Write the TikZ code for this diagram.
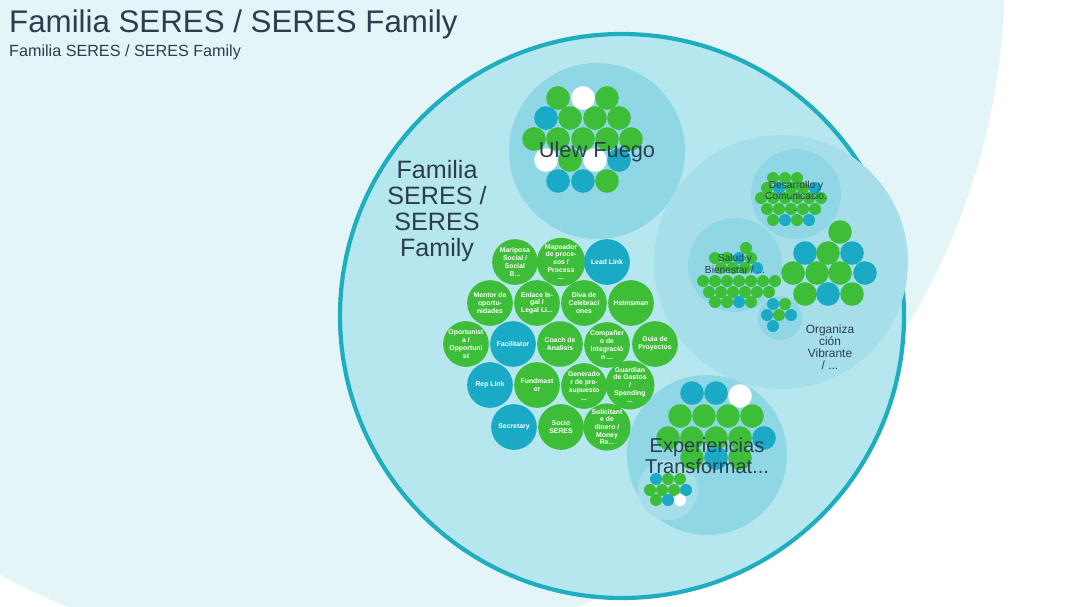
\documentclass[tikz,border=0pt]{standalone}
\usepackage{fontspec}
\setmainfont{Liberation Sans}
\definecolor{gr}{HTML}{3EBE38}
\definecolor{bl}{HTML}{1AAAC6}
\definecolor{wh}{HTML}{FFFFFF}
\definecolor{pale}{HTML}{E4F5F8}
\definecolor{mainc}{HTML}{B6E6EE}
\definecolor{subc}{HTML}{8FD7E4}
\definecolor{sub2}{HTML}{A6DFEA}
\definecolor{edge}{HTML}{1FAEC0}
\definecolor{txt}{HTML}{2B3E50}
\begin{document}
\begin{tikzpicture}[x=0.02cm,y=-0.02cm,
  lab/.style={circle,minimum size=26pt,inner sep=0,align=center,text=white,font=\fontsize{3.9}{4.4}\selectfont\bfseries},
  grp/.style={txt,align=center}]
\useasboundingbox (0,0) rectangle (1078,606);
\fill[white] (0,0) rectangle (1078,606);
\begin{scope}
\clip (0,0) rectangle (1078,606);
\fill[pale] (323,-26) circle (682);
\end{scope}
\node[anchor=west,text=txt,font=\fontsize{17.8}{20}\selectfont] (title) at (3,24) {Familia SERES / SERES Family};
\node[anchor=west,text=txt,font=\fontsize{9.2}{11}\selectfont] (sub) at (3,52) {Familia SERES / SERES Family};
\draw[edge,line width=2.4,fill=mainc] (622,316) circle (282);
% sub groups
\fill[subc] (597,151) circle (88);
\fill[sub2] (781,262) circle (127);
\fill[subc] (796,194) circle (45);
\fill[subc] (735,265) circle (47);
\fill[subc] (780,318) circle (22);
\fill[subc] (707,455) circle (80);
\fill[sub2] (668,490) circle (30);
% Ulew Fuego
\foreach \x/\y/\c in {558/98/gr,583/98/wh,607/98/gr,546/118/bl,570/118/gr,595/118/gr,619/118/gr,534/139/gr,558/139/gr,583/139/gr,607/139/gr,631/139/gr,546/160/wh,570/160/gr,595/160/wh,619/160/bl,558/181/bl,583/181/bl,607/181/gr}
  \fill[\c] (\x,\y) circle (11.8);
% Organizacion big cluster
\foreach \x/\y/\c in {840/232/gr,805/253/bl,828/253/gr,852/253/bl,793/273/gr,817/273/gr,840/273/gr,865/273/bl,805/294/gr,828/294/bl,852/294/gr}
  \fill[\c] (\x,\y) circle (11.8);
% Desarrollo
\foreach \x/\y/\c in {773/178/gr,785/178/gr,797/178/gr,767/188/gr,779/188/bl,791/188/gr,803/188/gr,815/188/bl,761/198/gr,773/198/gr,785/198/gr,797/198/gr,809/198/gr,821/198/gr,767/209/gr,779/209/gr,791/209/gr,803/209/gr,815/209/gr,773/220/gr,785/220/bl,797/220/gr,809/220/bl}
  \fill[\c] (\x,\y) circle (6);
% Salud
\foreach \x/\y/\c in {746/248/gr,715/258/gr,727/258/gr,739/258/bl,751/258/gr,721/268/gr,733/268/gr,745/268/gr,757/268/bl,703/281/gr,715/281/gr,727/281/gr,739/281/gr,751/281/gr,763/281/gr,775/281/gr,709/292/gr,721/292/gr,733/292/gr,745/292/gr,757/292/gr,769/292/gr,715/302/gr,727/302/gr,739/302/bl,751/302/gr}
  \fill[\c] (\x,\y) circle (6);
% small cluster
\foreach \x/\y/\c in {773/304/bl,785/304/gr,767/315/bl,779/315/gr,791/315/bl,773/326/bl}
  \fill[\c] (\x,\y) circle (6);
% Experiencias
\foreach \x/\y/\c in {692/393/bl,716/393/bl,740/396/wh,680/416/gr,704/416/gr,728/416/gr,752/416/gr,668/438/gr,692/438/gr,716/438/gr,740/438/gr,764/438/bl,692/458/gr,716/458/bl,740/458/gr}
  \fill[\c] (\x,\y) circle (11.8);
\foreach \x/\y/\c in {656/479/bl,668/479/gr,680/479/gr,650/490/gr,662/490/gr,674/490/gr,686/490/bl,656/500/gr,668/500/bl,680/500/wh}
  \fill[\c] (\x,\y) circle (6);
% labels of groups
\node[grp,font=\fontsize{12.4}{13}\selectfont] (ulew) at (597,152) {Ulew Fuego};
\node[grp,font=\fontsize{5.8}{6.6}\selectfont] (des) at (796,196) {Desarrollo y\\Comunicacio.\\.};
\node[grp,font=\fontsize{5.8}{6.6}\selectfont] (sal) at (735,264) {Salud y\\Bienestar / ...};
\node[grp,font=\fontsize{6.8}{6.9}\selectfont] (org) at (830,347) {Organiza\\ción\\Vibrante\\/ ...};
\node[grp,font=\fontsize{11.4}{11.6}\selectfont] (exp) at (707,456) {Experiencias\\Transformat...};
\node[grp,font=\fontsize{14.3}{14.8}\selectfont] (fam) at (437,211) {Familia\\SERES /\\SERES\\Family};
% labeled roles
\node[lab,fill=gr] (r1) at (515,262) {Mariposa\\Social /\\Social\\B...};
\node[lab,fill=gr] (r2) at (561,262) {Mapeador\\de proce-\\sos /\\Process\\...};
\node[lab,fill=bl] (r3) at (607,262) {Lead Link};
\node[lab,fill=gr] (r4) at (490,303) {Mentor de\\oportu-\\nidades};
\node[lab,fill=gr] (r5) at (537,303) {Enlace le-\\gal /\\Legal Li...};
\node[lab,fill=gr] (r6) at (584,303) {Diva de\\Celebraci\\ones};
\node[lab,fill=gr] (r7) at (631,303) {Helmsman};
\node[lab,fill=gr] (r8) at (466,344) {Oportunist\\a /\\Opportuni\\st};
\node[lab,fill=bl] (r9) at (513,344) {Facilitator};
\node[lab,fill=gr] (r10) at (560,344) {Coach de\\Analisis};
\node[lab,fill=gr] (r11) at (607,345) {Compañer\\o de\\Integració\\n ...};
\node[lab,fill=gr] (r12) at (655,344) {Guia de\\Proyectos};
\node[lab,fill=bl] (r13) at (490,385) {Rep Link};
\node[lab,fill=gr] (r14) at (537,385) {Fundmast\\er};
\node[lab,fill=gr] (r15) at (584,386) {Generado\\r de pre-\\supuesto\\...};
\node[lab,fill=gr] (r16) at (630,385) {Guardian\\de Gastos\\/\\Spending\\...};
\node[lab,fill=bl] (r17) at (514,427) {Secretary};
\node[lab,fill=gr] (r18) at (561,427) {Socio\\SERES};
\node[lab,fill=gr] (r19) at (607,427) {Solicitant\\e de\\dinero /\\Money\\Re...};
\end{tikzpicture}
\end{document}
